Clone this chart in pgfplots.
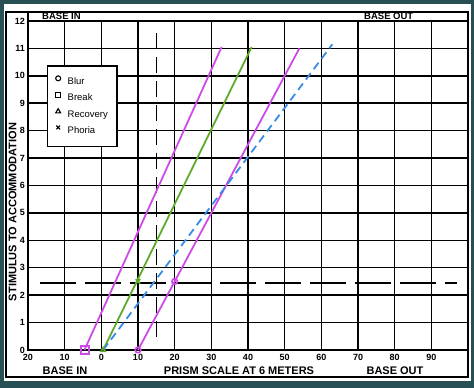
\documentclass[border=0pt]{standalone}
\usepackage{pgfplots}
\pgfplotsset{compat=1.18}
\usepackage{fontspec}
\setmainfont{Liberation Sans}
\definecolor{bgteal}{RGB}{40,80,84}
\definecolor{mag}{RGB}{205,75,230}
\definecolor{grn}{RGB}{95,170,45}
\definecolor{blu}{RGB}{55,140,230}
\pgfplotsset{onemark/.style={legend image code/.code={\draw[##1] plot coordinates {(0pt,3.4pt)};}}}
\begin{document}
\begin{tikzpicture}[x=1pt,y=1pt]
\useasboundingbox (0,0) rectangle (474,388);
\fill[bgteal] (0,0) rectangle (474,388);
\fill[white] (4,7) rectangle (471,384);
\draw[line width=1.3pt] (6,11) rectangle (468,376);
\draw[line width=1.5pt] (28,366) -- (28,376);
\begin{axis}[
  at={(28pt,38pt)}, anchor=south west,
  x=3.6667pt, y=27.4167pt,
  xmin=-20, xmax=100, ymin=0, ymax=12,
  axis line style={line width=1.5pt, black},
  grid=major, grid style={line width=1.5pt, black},
  xtick={-20,-10,...,90},
  xticklabels={20,10,0,10,20,30,40,50,60,70,80,90},
  ytick={0,1,...,12},
  major tick length=0pt,
  /pgf/number format/assume math mode=true,
  xticklabel style={font=\bfseries\fontsize{9}{9}\selectfont, anchor=north, inner sep=0pt, yshift=-4.5pt},
  yticklabel style={font=\bfseries\fontsize{9}{9}\selectfont, anchor=east, inner sep=0pt, xshift=-3pt},
  clip=false,
  legend style={
    at={(axis cs:-14.82,10.39)}, anchor=north west,
    draw=black, line width=1.4pt, fill=white,
    inner xsep=8pt, inner ysep=10pt,
    row sep=5pt, column sep=6pt,
    font=\fontsize{9.5}{10}\selectfont,
    nodes={inner sep=1pt, text height=7pt, text depth=2pt},
  },
  legend cell align=left,
]
\addlegendimage{onemark, only marks, mark=o, black, mark size=2.5pt, line width=1.1pt}
\addlegendentry{Blur}
\addlegendimage{onemark, only marks, mark=square, black, mark size=2.5pt, line width=1.1pt}
\addlegendentry{Break}
\addlegendimage{onemark, only marks, mark=triangle, black, mark size=2.8pt, line width=1.1pt}
\addlegendentry{Recovery}
\addlegendimage{onemark, only marks, mark=x, black, mark size=2.6pt, line width=1.1pt}
\addlegendentry{Phoria}

% dashed reference lines
\addplot[forget plot, black, line width=1.6pt, dash pattern=on 16pt off 8pt] coordinates {(15,11.55) (15,0.35)};
\addplot[forget plot, black, line width=1.4pt, dash pattern=on 36pt off 9pt] coordinates {(-16.7,2.45) (97,2.45)};

% data lines
\addplot[forget plot, mag, line width=1.8pt] coordinates {(-4.6,0) (32.8,11.05)};
\addplot[forget plot, grn, line width=1.8pt] coordinates {(0.5,0) (41,11.05)};
\addplot[forget plot, mag, line width=1.8pt] coordinates {(10,0) (54,11.0)};
\addplot[forget plot, blu, line width=1.8pt, dash pattern=on 8pt off 5pt] coordinates {(0.5,0) (63,11.15)};

% markers
\addplot[forget plot, mag, only marks, mark=square, mark size=4pt, line width=1.4pt] coordinates {(-4.5,0)};
\addplot[forget plot, mag, only marks, mark=o, mark size=2.8pt, line width=1.6pt] coordinates {(10,0) (20,2.5)};
\addplot[forget plot, grn, only marks, mark=triangle, mark size=2.8pt, line width=1.3pt] coordinates {(0.5,0)};
\addplot[forget plot, grn, only marks, mark=x, mark size=3.2pt, line width=1.5pt] coordinates {(10,2.5)};
\end{axis}
\node[rotate=90, inner sep=0pt, font=\bfseries\fontsize{11}{11}\selectfont] at (12.5,176) {STIMULUS TO ACCOMMODATION};
\node[anchor=base, inner sep=0pt, font=\bfseries\fontsize{11}{11}\selectfont] at (65,13) {BASE IN};
\node[anchor=base, inner sep=0pt, font=\bfseries\fontsize{11}{11}\selectfont] at (239,13) {PRISM SCALE AT 6 METERS};
\node[anchor=base, inner sep=0pt, font=\bfseries\fontsize{11}{11}\selectfont] at (395,13) {BASE OUT};
\node[anchor=base west, inner sep=0pt, font=\bfseries\fontsize{9.5}{10}\selectfont] at (42,368.5) {BASE IN};
\node[anchor=base west, inner sep=0pt, font=\bfseries\fontsize{9.5}{10}\selectfont] at (364,368.5) {BASE OUT};
\end{tikzpicture}
\end{document}
